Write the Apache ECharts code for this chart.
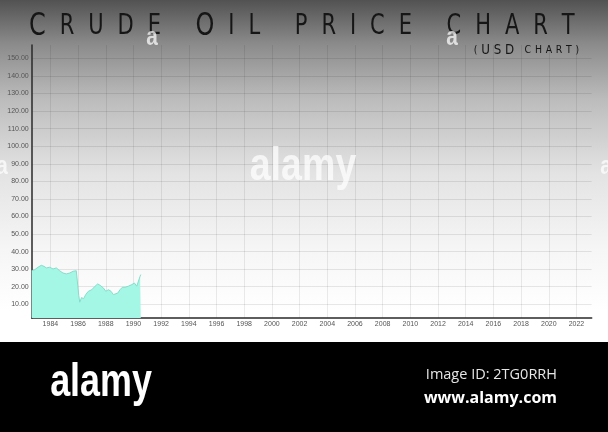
<!DOCTYPE html>
<html>
<head>
<meta charset="utf-8">
<script src="https://cdn.jsdelivr.net/npm/echarts@6/dist/echarts.min.js"></script>
<style>html,body{margin:0;padding:0;background:#fff}#c{width:608px;height:432px}</style>
</head>
<body>
<div id="c"></div>
<script>
// ---- data ----
const titleText = "Crude Oil price chart";
const subtitleText = "(USD chart)";
const years = [1982.65, 1982.87, 1983.11, 1983.34, 1983.54, 1983.71, 1983.95, 1984.19, 1984.43, 1984.67, 1984.91, 1985.15, 1985.40, 1985.64, 1985.76, 1985.87, 1985.97, 1986.05, 1986.12, 1986.25, 1986.40, 1986.55, 1986.74, 1986.99, 1987.23, 1987.42, 1987.59, 1987.83, 1988.00, 1988.19, 1988.38, 1988.55, 1988.67, 1988.87, 1989.03, 1989.20, 1989.40, 1989.63, 1989.88, 1990.07, 1990.24, 1990.36, 1990.48, 1990.53];
const prices = [29.1, 29.7, 31.1, 32.2, 31.6, 30.7, 31.1, 30.1, 30.7, 29.1, 27.8, 27.3, 27.8, 28.8, 29.7, 29.1, 29.0, 15.0, 11.2, 13.8, 13.2, 15.5, 17.4, 18.3, 20.3, 21.6, 20.8, 19.3, 17.4, 18.3, 17.4, 15.5, 14.6, 16.4, 18.3, 19.7, 19.7, 20.3, 21.2, 22.1, 20.3, 19.3, 26.0, 26.9];
const xTicks = [1984, 1986, 1988, 1990, 1992, 1994, 1996, 1998, 2000, 2002, 2004, 2006, 2008, 2010, 2012, 2014, 2016, 2018, 2020, 2022];
const yTicks = [10, 20, 30, 40, 50, 60, 70, 80, 90, 100, 110, 120, 130, 140, 150];

// rich small-caps text builder
function smallCaps(str, big, small) {
  let out = '';
  for (const ch of str) {
    if (ch === ' ') out += '{' + small + '|\u00a0}';
    else if (ch === ch.toUpperCase() && ch !== ch.toLowerCase()) out += '{' + big + '|' + ch + '}';
    else if (ch !== ch.toUpperCase()) out += '{' + small + '|' + ch.toUpperCase() + '}';
    else out += '{' + small + '|' + ch + '}';
  }
  return out;
}

const seriesData = years.map((y, i) => [y, prices[i]]);
const chart = echarts.init(document.getElementById('c'), null, {renderer: 'canvas'});
const wm = 'rgba(255,255,255,0.72)';
chart.setOption({
  animation: false,
  backgroundColor: {
    type: 'linear', x: 0, y: 0, x2: 0, y2: 1,
    colorStops: [
      {offset: 0, color: '#525252'},
      {offset: 0.1, color: '#8a8a8a'},
      {offset: 0.23, color: '#bcbcbc'},
      {offset: 0.4, color: '#e3e3e3'},
      {offset: 0.58, color: '#f6f6f6'},
      {offset: 0.72, color: '#ffffff'},
      {offset: 1, color: '#ffffff'}
    ]
  },
  grid: {left: 31.7, right: 16.3, top: 45, bottom: 114, containLabel: false},
  xAxis: {
    type: 'value', min: 1982.65, max: 2023.1,
    axisLine: {show: true, lineStyle: {color: '#2a2a2a', width: 1.5}},
    axisTick: {show: false, customValues: xTicks},
    axisLabel: {customValues: xTicks, color: '#555', fontSize: 7, fontFamily: 'Liberation Sans', margin: 3, formatter: v => String(v)},
    splitLine: {show: true, lineStyle: {color: 'rgba(0,0,0,0.08)', width: 1}}
  },
  yAxis: {
    type: 'value', min: 2.2, max: 157.6,
    axisLine: {show: true, lineStyle: {color: '#2a2a2a', width: 1.5}},
    axisTick: {show: false, customValues: yTicks},
    axisLabel: {customValues: yTicks, color: '#555', fontSize: 7, fontFamily: 'Liberation Sans', margin: 3, formatter: v => v.toFixed(2)},
    splitLine: {show: true, lineStyle: {color: 'rgba(0,0,0,0.09)', width: 1}}
  },
  series: [{
    type: 'line', data: seriesData, symbol: 'none', smooth: false,
    lineStyle: {color: '#86dccb', width: 1},
    areaStyle: {color: '#a4f7e5', opacity: 1}
  }],
  graphic: [
    {type: 'text', x: 22, y: 27, scaleX: 0.75, z: 10,
      style: {text: smallCaps(titleText, 'b', 's'), verticalAlign: 'middle', align: 'left',
        rich: {
          b: {fontFamily: 'DejaVu Sans', fontSize: 32, fill: '#161616', padding: [0, 9.3]},
          s: {fontFamily: 'DejaVu Sans', fontSize: 28, fill: '#161616', padding: [0, 9.3]}
        }}},
    {type: 'text', x: 581, y: 50, scaleX: 0.85, z: 10,
      style: {text: smallCaps(subtitleText, 'b', 's'), verticalAlign: 'middle', align: 'right',
        rich: {
          b: {fontFamily: 'DejaVu Sans', fontSize: 14, fill: '#161616', padding: [0, 2.2]},
          s: {fontFamily: 'DejaVu Sans', fontSize: 11, fill: '#161616', padding: [0, 2.2]}
        }}},
    // watermarks
    {type: 'text', x: 303, y: 167, scaleX: 0.8, z: 20, style: {text: 'alamy', font: 'bold 47px "Liberation Sans"', fill: wm, align: 'center', verticalAlign: 'middle'}},
    {type: 'text', x: 152, y: 38, scaleX: 0.8, z: 20, style: {text: 'a', font: 'bold 26px "Liberation Sans"', fill: wm, align: 'center', verticalAlign: 'middle'}},
    {type: 'text', x: 452, y: 38, scaleX: 0.8, z: 20, style: {text: 'a', font: 'bold 26px "Liberation Sans"', fill: wm, align: 'center', verticalAlign: 'middle'}},
    {type: 'text', x: 2, y: 167, scaleX: 0.8, z: 20, style: {text: 'a', font: 'bold 26px "Liberation Sans"', fill: wm, align: 'center', verticalAlign: 'middle'}},
    {type: 'text', x: 606, y: 167, scaleX: 0.8, z: 20, style: {text: 'a', font: 'bold 26px "Liberation Sans"', fill: wm, align: 'center', verticalAlign: 'middle'}},
    // bottom band
    {type: 'rect', z: 30, shape: {x: 0, y: 342, width: 608, height: 90}, style: {fill: '#000'}},
    {type: 'text', x: 101, y: 383, scaleX: 0.78, z: 31, style: {text: 'alamy', font: 'bold 46px "Liberation Sans"', fill: '#fff', align: 'center', verticalAlign: 'middle'}},
    {type: 'text', x: 557, y: 375, z: 31, style: {text: 'Image ID: 2TG0RRH', font: '14.5px "Open Sans"', fill: '#e6e6e6', align: 'right', verticalAlign: 'middle'}},
    {type: 'text', x: 557, y: 398, z: 31, style: {text: 'www.alamy.com', font: 'bold 16px "Open Sans"', fill: '#fff', align: 'right', verticalAlign: 'middle'}}
  ]
});
</script>
</body>
</html>
